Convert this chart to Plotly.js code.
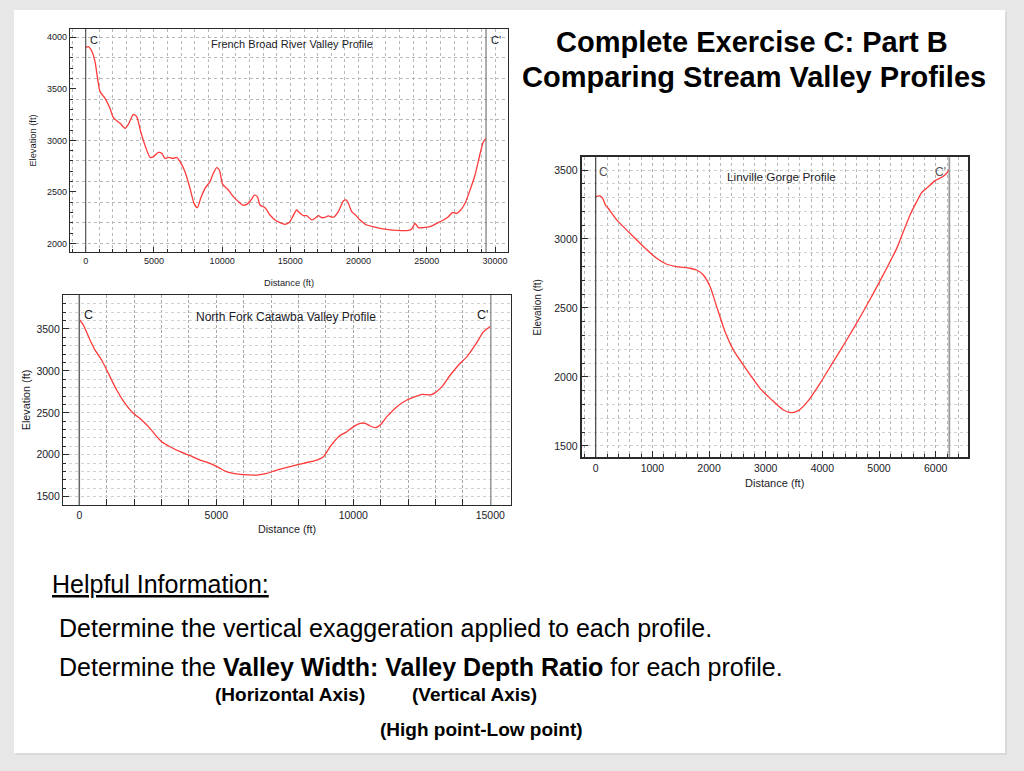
<!DOCTYPE html>
<html>
<head>
<meta charset="utf-8">
<script src="https://cdn.plot.ly/plotly-3.0.1.min.js"></script>
<style>html,body{margin:0;padding:0;background:#e7e7e7;}#chart{width:1024px;height:771px;}</style>
</head>
<body>
<div id="chart"></div>
<script>
// ---- Data ----
const chartTitles = ["French Broad River Valley Profile", "North Fork Catawba Valley Profile", "Linville Gorge Profile"];
const endLabels = ["C", "C'"];

const fbDist = [0,195,440,684,1050,1417,1783,2027,2516,2883,3127,3493,3738,4031,4422,4715,4959,5326,5570,5814,6059,6425,6669,6913,7280,7646,7940,8184,8428,8746,9112,9357,9601,9796,10041,10456,10822,11189,11506,11800,12117,12362,12582,12777,13143,13510,13876,14242,14609,14926,15171,15464,15708,15953,16197,16563,16808,17052,17296,17541,17785,18151,18518,18884,19080,19251,19495,19813,20106,20594,21083,21571,22060,22793,23648,23892,24137,24381,24747,25236,25725,26213,26580,26897,27190,27483,27801,28167,28534,28851,29144,29340];
const fbElev = [3900,3909,3867,3764,3473,3408,3311,3220,3165,3117,3155,3253,3230,3084,2922,2835,2841,2883,2874,2825,2835,2825,2835,2793,2696,2534,2388,2346,2437,2534,2599,2680,2735,2712,2573,2518,2453,2405,2372,2379,2421,2469,2453,2372,2346,2275,2227,2201,2185,2204,2259,2324,2291,2269,2269,2227,2243,2269,2249,2253,2266,2253,2308,2411,2421,2389,2308,2269,2227,2178,2162,2146,2136,2126,2126,2139,2194,2152,2152,2162,2194,2227,2259,2301,2291,2324,2389,2518,2664,2841,2987,3019];

const nfDist = [0,146,390,572,816,1059,1364,1668,1973,2277,2581,2825,3008,3312,3677,4043,4408,4773,5078,5321,5626,5991,6478,6843,7209,7696,8183,8670,8914,9157,9462,9766,10009,10253,10436,10618,10801,10984,11227,11593,11958,12262,12506,12810,12993,13236,13541,13845,14150,14454,14758,15020];
const nfElev = [3615,3548,3369,3250,3130,2971,2772,2613,2494,2415,2315,2216,2156,2096,2037,1989,1937,1898,1850,1806,1778,1762,1758,1778,1818,1858,1898,1937,1977,2096,2216,2275,2335,2375,2375,2343,2323,2355,2454,2574,2653,2693,2721,2713,2741,2812,2951,3071,3170,3309,3468,3536];

const lgDist = [0,76,124,171,206,371,606,841,1076,1253,1429,1665,1782,1900,2018,2135,2282,2429,2665,2900,3106,3312,3459,3576,3753,3959,4194,4429,4665,4900,5135,5312,5429,5547,5665,5753,5871,5988,6106,6194,6241];
const lgElev = [3307,3312,3295,3246,3230,3138,3041,2945,2860,2817,2800,2788,2775,2739,2655,2510,2329,2196,2051,1918,1834,1761,1742,1756,1829,1954,2111,2268,2433,2606,2788,2932,3053,3174,3271,3336,3379,3423,3447,3476,3505];

const slideTitle = ["Complete Exercise C: Part B", "Comparing Stream Valley Profiles"];
const infoHeading = "Helpful Information:";
const infoLine1 = "Determine the vertical exaggeration applied to each profile.";
const infoLine2 = "Determine the <b>Valley Width: Valley Depth Ratio</b> for each profile.";
const infoNotes = ["(Horizontal Axis)", "(Vertical Axis)", "(High point-Low point)"];

// ---- Layout helpers ----
const W = 1024, H = 771;
const FONT = "Liberation Sans, Arial, sans-serif";
const px = v => v / W;
const py = v => 1 - v / H;
const RED = "#ff3a3a";
const TXT = "#1b1b28";

function profileTrace(x, y, xa, ya) {
  return {x: x, y: y, xaxis: xa, yaxis: ya, type: "scatter", mode: "lines",
    line: {color: RED, width: 1.3, shape: "spline", smoothing: 0.6}, hoverinfo: "skip", showlegend: false};
}

const data = [
  profileTrace(fbDist, fbElev, "x", "y"),
  profileTrace(nfDist, nfElev, "x2", "y2"),
  profileTrace(lgDist, lgElev, "x3", "y3"),
  {x: [], y: [], xaxis: "x", yaxis: "y4", type: "scatter", mode: "lines", showlegend: false, hoverinfo: "skip"}
];

function axisBase(fs, lw) {
  return {showline: true, mirror: true, linecolor: "#2a2a2a", linewidth: lw, ticks: "inside",
    tickcolor: "#2a2a2a", zeroline: false, tickformat: "d",
    tickfont: {family: FONT, size: fs, color: TXT}, fixedrange: true};
}

const layout = {
  width: W, height: H, margin: {l: 0, r: 0, t: 0, b: 0},
  paper_bgcolor: "#e7e7e7", plot_bgcolor: "#ffffff", showlegend: false,
  font: {family: FONT, color: TXT},
  // Chart 1: French Broad
  xaxis: Object.assign(axisBase(9, 1.2), {
    domain: [px(70), px(508)], anchor: "y", range: [-1150, 30950], tick0: 0, dtick: 5000, ticklen: 5,
    showgrid: true, gridcolor: "#b8b8b8", griddash: "dot", gridwidth: 1,
    minor: {dtick: 1000, ticks: "inside", ticklen: 3, tickcolor: "#2a2a2a", showgrid: true, gridcolor: "#b8b8b8", griddash: "dot"},
    title: {text: "Distance (ft)", font: {family: FONT, size: 9.3, color: TXT}, standoff: 14}
  }),
  yaxis: Object.assign(axisBase(9, 1.2), {
    domain: [py(252), py(29)], anchor: "x", range: [1916, 4081], tick0: 2000, dtick: 500, ticklen: 6,
    showgrid: false,
    minor: {dtick: 100, ticks: "inside", ticklen: 3, tickcolor: "#2a2a2a", showgrid: false},
    title: {text: "Elevation (ft)", font: {family: FONT, size: 9.3, color: TXT}, standoff: 8}
  }),
  yaxis4: {overlaying: "y", anchor: "x", range: [1916, 4081], tick0: 2000, dtick: 200, showgrid: true,
    gridcolor: "#b8b8b8", griddash: "dot", showticklabels: false, ticks: "", showline: false, zeroline: false, fixedrange: true},
  // Chart 2: North Fork Catawba
  xaxis2: Object.assign(axisBase(10.5, 1.4), {
    domain: [px(63.3), px(510.7)], anchor: "y2", range: [-584, 15746], tick0: 0, dtick: 5000, ticklen: 6,
    showgrid: true, gridcolor: "#a8a8a8", griddash: "3px,2px",
    minor: {dtick: 1000, ticks: "inside", ticklen: 6, tickcolor: "#2a2a2a", showgrid: true, gridcolor: "#a8a8a8", griddash: "3px,2px"},
    title: {text: "Distance (ft)", font: {family: FONT, size: 10.8, color: TXT}, standoff: 5}
  }),
  yaxis2: Object.assign(axisBase(10.5, 1.4), {
    domain: [py(505), py(295)], anchor: "x2", range: [1401, 3905], tick0: 1500, dtick: 500, ticklen: 6,
    showgrid: true, gridcolor: "#cfcfcf", griddash: "dot",
    minor: {dtick: 100, ticks: "inside", ticklen: 3, tickcolor: "#2a2a2a", showgrid: true, gridcolor: "#d2d2d2", griddash: "dot"},
    title: {text: "Elevation (ft)", font: {family: FONT, size: 10.8, color: TXT}, standoff: 3}
  }),
  // Chart 3: Linville Gorge
  xaxis3: Object.assign(axisBase(10.5, 2), {
    domain: [px(581.7), px(967.7)], anchor: "y3", range: [-247, 6565], tick0: 0, dtick: 1000, ticklen: 6,
    showgrid: true, gridcolor: "#b0b0b0", griddash: "dot",
    minor: {dtick: 200, ticks: "inside", ticklen: 3, tickcolor: "#2a2a2a", showgrid: true, gridcolor: "#b8b8b8", griddash: "dot"},
    title: {text: "Distance (ft)", font: {family: FONT, size: 11, color: TXT}, standoff: 6}
  }),
  yaxis3: Object.assign(axisBase(10.5, 2), {
    domain: [py(457.3), py(157.3)], anchor: "x3", range: [1418, 3592], tick0: 1500, dtick: 500, ticklen: 6,
    showgrid: true, gridcolor: "#cfcfcf", griddash: "dot",
    minor: {dtick: 100, ticks: "inside", ticklen: 3, tickcolor: "#2a2a2a", showgrid: true, gridcolor: "#d2d2d2", griddash: "dot"},
    title: {text: "Elevation (ft)", font: {family: FONT, size: 10, color: TXT}, standoff: 11}
  }),
  shapes: [
    {type: "rect", xref: "paper", yref: "paper", x0: px(16), x1: px(1007), y0: py(755), y1: py(12),
      fillcolor: "#d9d9d9", line: {width: 0}, layer: "below"},
    {type: "rect", xref: "paper", yref: "paper", x0: px(14), x1: px(1005), y0: py(753), y1: py(10),
      fillcolor: "#ffffff", line: {width: 0}, layer: "below"},
    // C and C' section lines at the profile end points
    {type: "line", xref: "x", yref: "y domain", x0: fbDist[0], x1: fbDist[0], y0: 0, y1: 1, line: {color: "#555", width: 1.2}},
    {type: "line", xref: "x", yref: "y domain", x0: fbDist[fbDist.length-1], x1: fbDist[fbDist.length-1], y0: 0, y1: 1, line: {color: "#777", width: 1.2}},
    {type: "line", xref: "x2", yref: "y2 domain", x0: nfDist[0], x1: nfDist[0], y0: 0, y1: 1, line: {color: "#666", width: 1.5}},
    {type: "line", xref: "x2", yref: "y2 domain", x0: nfDist[nfDist.length-1], x1: nfDist[nfDist.length-1], y0: 0, y1: 1, line: {color: "#999", width: 1.5}},
    {type: "line", xref: "x3", yref: "y3 domain", x0: lgDist[0], x1: lgDist[0], y0: 0, y1: 1, line: {color: "#444", width: 1.2}},
    {type: "line", xref: "x3", yref: "y3 domain", x0: lgDist[lgDist.length-1], x1: lgDist[lgDist.length-1], y0: 0, y1: 1, line: {color: "#999", width: 1.8}}
  ],
  annotations: []
};

function ann(text, x, y, size, opts) {
  return Object.assign({text: text, xref: "paper", yref: "paper", x: px(x), y: py(y), showarrow: false,
    xanchor: "center", yanchor: "middle", font: {family: FONT, size: size, color: TXT}}, opts || {});
}

layout.annotations.push(
  ann(chartTitles[0], 292, 44, 11),
  ann(endLabels[0], 88, 40, 11, {xanchor: "left"}),
  ann(endLabels[1], 489, 40, 11, {xanchor: "left"}),
  ann(chartTitles[1], 286, 317, 12),
  ann(endLabels[0], 82, 315, 12.5, {xanchor: "left"}),
  ann(endLabels[1], 475, 315, 12.5, {xanchor: "left"}),
  ann(chartTitles[2], 781, 177, 11.8),
  ann(endLabels[0], 597, 172, 12, {xanchor: "left", font: {family: FONT, size: 12, color: "#555"}}),
  ann(endLabels[1], 933, 172, 12, {xanchor: "left", font: {family: FONT, size: 12, color: "#555"}}),
  ann(slideTitle[0], 752, 42, 29, {font: {family: FONT, size: 29, color: "#000", weight: "bold"}}),
  ann(slideTitle[1], 754, 77, 29, {font: {family: FONT, size: 29, color: "#000", weight: "bold"}}),
  ann(infoHeading, 50, 584, 25, {xanchor: "left", font: {family: FONT, size: 25, color: "#000", lineposition: "under"}}),
  ann(infoLine1, 57, 628, 25, {xanchor: "left", font: {family: FONT, size: 25, color: "#000"}}),
  ann(infoLine2, 57, 667, 25, {xanchor: "left", font: {family: FONT, size: 25, color: "#000"}}),
  ann(infoNotes[0], 213, 694, 19, {xanchor: "left", font: {family: FONT, size: 19, color: "#000", weight: "bold"}}),
  ann(infoNotes[1], 410, 694, 19, {xanchor: "left", font: {family: FONT, size: 19, color: "#000", weight: "bold"}}),
  ann(infoNotes[2], 378, 729, 19, {xanchor: "left", font: {family: FONT, size: 19, color: "#000", weight: "bold"}})
);

Plotly.newPlot("chart", data, layout, {staticPlot: true, displayModeBar: false});
</script>
</body>
</html>
